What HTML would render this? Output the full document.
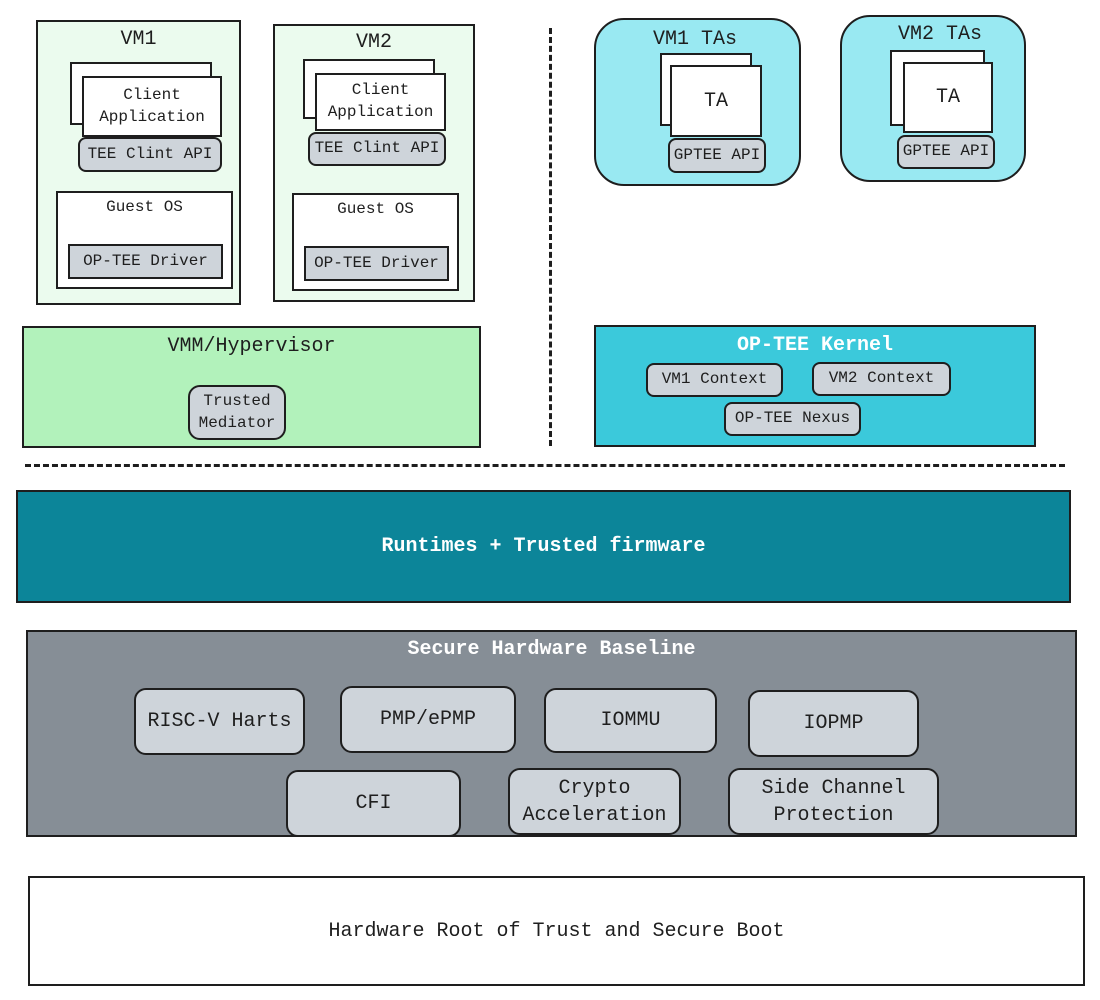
<!DOCTYPE html>
<html><head><meta charset="utf-8"><style>
body{margin:0;width:1100px;height:1000px;background:#fff;position:relative;overflow:hidden;font-family:"Liberation Mono",monospace;color:#1e1e1e}
.b{position:absolute;box-sizing:border-box;border:2px solid #1e1e1e;display:flex;align-items:center;justify-content:center;text-align:center;line-height:1.35}
.g{background:#ced4da;border-radius:8px}
.t{position:absolute;text-align:center;white-space:nowrap}
.s{font-size:16px}
.m{font-size:20px}
.w{color:#fff;font-weight:bold}
</style></head><body>
<!-- VM1 -->
<div class="b" style="left:36px;top:20px;width:205px;height:285px;background:#ebfbee"></div>
<div class="t m" style="left:36px;top:28px;width:205px">VM1</div>
<div class="b" style="left:70px;top:62px;width:142px;height:63px;background:#fff"></div>
<div class="b s" style="left:82px;top:76px;width:140px;height:61px;background:#fff">Client<br>Application</div>
<div class="b g s" style="left:78px;top:137px;width:144px;height:35px">TEE Clint API</div>
<div class="b" style="left:56px;top:191px;width:177px;height:98px;background:#fff"></div>
<div class="t s" style="left:56px;top:198px;width:177px">Guest OS</div>
<div class="b s" style="left:68px;top:244px;width:155px;height:35px;background:#ced4da">OP-TEE Driver</div>
<!-- VM2 -->
<div class="b" style="left:273px;top:24px;width:202px;height:278px;background:#ebfbee"></div>
<div class="t m" style="left:273px;top:31px;width:202px">VM2</div>
<div class="b" style="left:303px;top:59px;width:132px;height:60px;background:#fff"></div>
<div class="b s" style="left:315px;top:73px;width:131px;height:58px;background:#fff">Client<br>Application</div>
<div class="b g s" style="left:308px;top:132px;width:138px;height:34px">TEE Clint API</div>
<div class="b" style="left:292px;top:193px;width:167px;height:98px;background:#fff"></div>
<div class="t s" style="left:292px;top:200px;width:167px">Guest OS</div>
<div class="b s" style="left:304px;top:246px;width:145px;height:35px;background:#ced4da">OP-TEE Driver</div>
<!-- VMM -->
<div class="b" style="left:22px;top:326px;width:459px;height:122px;background:#b2f2bb"></div>
<div class="t m" style="left:22px;top:335px;width:459px">VMM/Hypervisor</div>
<div class="b g s" style="left:188px;top:385px;width:98px;height:55px;border-radius:12px">Trusted<br>Mediator</div>
<!-- dashed lines -->
<div style="position:absolute;left:549px;top:28px;height:418px;border-left:3px dashed #1e1e1e"></div>
<div style="position:absolute;left:25px;top:464px;width:1040px;border-top:3px dashed #1e1e1e"></div>
<!-- VM1 TAs -->
<div class="b" style="left:594px;top:18px;width:207px;height:168px;background:#99e9f2;border-radius:30px"></div>
<div class="t m" style="left:640px;top:28px;width:110px">VM1 TAs</div>
<div class="b" style="left:660px;top:53px;width:92px;height:73px;background:#fff"></div>
<div class="b m" style="left:670px;top:65px;width:92px;height:72px;background:#fff">TA</div>
<div class="b g s" style="left:668px;top:138px;width:98px;height:35px">GPTEE API</div>
<!-- VM2 TAs -->
<div class="b" style="left:840px;top:15px;width:186px;height:167px;background:#99e9f2;border-radius:30px"></div>
<div class="t m" style="left:885px;top:23px;width:110px">VM2 TAs</div>
<div class="b" style="left:890px;top:50px;width:95px;height:76px;background:#fff"></div>
<div class="b m" style="left:903px;top:62px;width:90px;height:71px;background:#fff">TA</div>
<div class="b g s" style="left:897px;top:135px;width:98px;height:34px">GPTEE API</div>
<!-- OP-TEE Kernel -->
<div class="b" style="left:594px;top:325px;width:442px;height:122px;background:#3bc9db"></div>
<div class="t m w" style="left:594px;top:334px;width:442px">OP-TEE Kernel</div>
<div class="b g s" style="left:646px;top:363px;width:137px;height:34px">VM1 Context</div>
<div class="b g s" style="left:812px;top:362px;width:139px;height:34px">VM2 Context</div>
<div class="b g s" style="left:724px;top:402px;width:137px;height:34px">OP-TEE Nexus</div>
<!-- Runtimes -->
<div class="b m w" style="left:16px;top:490px;width:1055px;height:113px;background:#0c8599">Runtimes + Trusted firmware</div>
<!-- Secure HW -->
<div class="b" style="left:26px;top:630px;width:1051px;height:207px;background:#868e96"></div>
<div class="t m w" style="left:26px;top:638px;width:1051px">Secure Hardware Baseline</div>
<div class="b g m" style="left:134px;top:688px;width:171px;height:67px;border-radius:12px">RISC-V Harts</div>
<div class="b g m" style="left:340px;top:686px;width:176px;height:67px;border-radius:12px">PMP/ePMP</div>
<div class="b g m" style="left:544px;top:688px;width:173px;height:65px;border-radius:12px">IOMMU</div>
<div class="b g m" style="left:748px;top:690px;width:171px;height:67px;border-radius:12px">IOPMP</div>
<div class="b g m" style="left:286px;top:770px;width:175px;height:67px;border-radius:12px">CFI</div>
<div class="b g m" style="left:508px;top:768px;width:173px;height:67px;border-radius:12px">Crypto<br>Acceleration</div>
<div class="b g m" style="left:728px;top:768px;width:211px;height:67px;border-radius:12px">Side Channel<br>Protection</div>
<!-- HRoT -->
<div class="b m" style="left:28px;top:876px;width:1057px;height:110px;background:#fff">Hardware Root of Trust and Secure Boot</div>
</body></html>
